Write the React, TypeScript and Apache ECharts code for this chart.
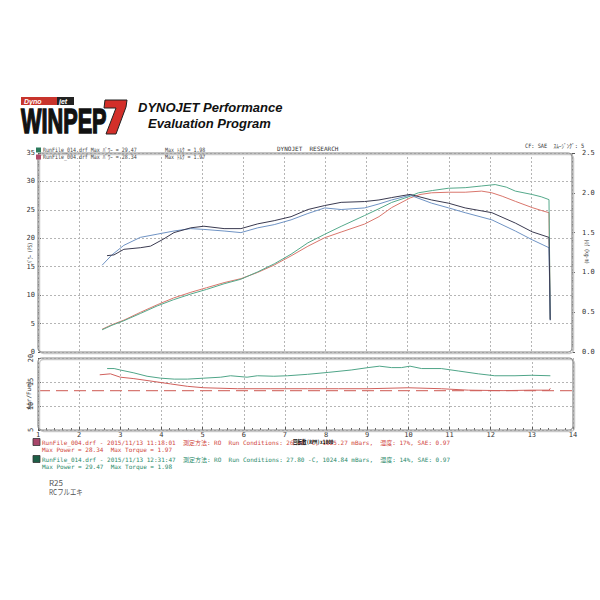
import React, { useEffect, useRef } from "react";
import * as echarts from "echarts";

// ---- data (rpm x1000, value) ----
const powerRun014: number[][] = [
  [2.56, 3.9], [2.8, 4.7], [3.09, 5.5], [3.5, 6.8], [3.9, 8.1], [4.3, 9.2], [4.72, 10.2], [5.1, 11.0],
  [5.53, 12.0], [5.94, 12.8], [6.35, 14.1], [6.75, 15.5], [7.16, 17.2], [7.57, 19.2], [7.98, 20.7],
  [8.38, 22.1], [8.95, 24.0], [9.3, 25.2], [9.61, 26.3], [10.06, 27.4], [10.26, 28.0], [10.6, 28.4],
  [10.99, 28.8], [11.4, 28.9], [11.8, 29.2], [12.13, 29.45], [12.4, 29.0], [12.62, 28.3], [13.03, 27.7],
  [13.25, 27.3], [13.44, 26.8], [13.47, 5.8],
];
const powerRun004: number[][] = [
  [2.56, 4.0], [2.8, 4.8], [3.09, 5.6], [3.5, 7.0], [3.9, 8.3], [4.3, 9.5], [4.72, 10.5], [5.1, 11.3],
  [5.53, 12.2], [5.94, 12.9], [6.35, 14.0], [6.75, 15.3], [7.16, 16.9], [7.57, 18.6], [7.98, 20.1],
  [8.38, 21.1], [8.95, 22.5], [9.3, 23.8], [9.61, 25.4], [10.06, 27.1], [10.3, 27.7], [10.58, 28.0],
  [11.0, 28.1], [11.4, 28.1], [11.8, 28.3], [12.05, 28.0], [12.3, 27.4], [12.62, 26.5], [13.03, 25.4],
  [13.25, 24.9], [13.44, 24.5], [13.47, 5.8],
];
const torqueRun004: number[][] = [
  [2.56, 1.09], [2.8, 1.22], [3.09, 1.34], [3.49, 1.44], [3.9, 1.48], [4.31, 1.52], [4.72, 1.55],
  [5.04, 1.54], [5.53, 1.52], [5.94, 1.5], [6.35, 1.56], [6.75, 1.6], [7.16, 1.66], [7.57, 1.74],
  [7.98, 1.81], [8.38, 1.79], [8.95, 1.81], [9.3, 1.86], [9.61, 1.91], [10.06, 1.97], [10.58, 1.87],
  [11.0, 1.81], [11.4, 1.75], [12.05, 1.66], [12.62, 1.52], [13.03, 1.41], [13.44, 1.31], [13.47, 0.4],
];
const torqueRun014: number[][] = [
  [2.68, 1.21], [2.85, 1.22], [3.09, 1.29], [3.49, 1.31], [3.74, 1.33], [4.06, 1.42], [4.31, 1.5],
  [4.72, 1.56], [5.04, 1.58], [5.53, 1.55], [5.94, 1.55], [6.35, 1.61], [6.75, 1.65], [7.16, 1.7],
  [7.57, 1.79], [7.98, 1.84], [8.38, 1.88], [8.95, 1.89], [9.3, 1.91], [9.61, 1.94], [10.06, 1.98],
  [10.58, 1.91], [10.99, 1.87], [11.4, 1.81], [12.05, 1.75], [12.62, 1.62], [13.03, 1.51], [13.44, 1.44],
  [13.47, 0.4],
];
const afrRun014: number[][] = [
  [2.68, 17.8], [2.85, 17.8], [3.0, 17.5], [3.33, 16.9], [3.65, 16.2], [3.98, 15.8], [4.31, 15.6],
  [4.63, 15.6], [5.03, 15.8], [5.44, 16.0], [5.68, 16.3], [6.08, 16.0], [6.33, 16.3], [6.73, 16.2],
  [7.06, 16.3], [7.55, 16.6], [8.05, 17.0], [8.61, 17.5], [9.02, 18.0], [9.3, 18.3], [9.59, 18.0],
  [9.83, 18.0], [10.04, 18.3], [10.32, 17.8], [10.8, 17.8], [11.21, 17.3], [11.7, 16.7], [12.1, 16.3],
  [12.59, 16.3], [13.0, 16.4], [13.45, 16.3],
];
const afrRun004: number[][] = [
  [2.5, 16.5], [2.76, 16.7], [3.0, 16.0], [3.33, 15.7], [3.82, 15.1], [4.22, 14.6], [4.63, 14.1],
  [5.03, 13.8], [5.85, 13.6], [6.66, 13.6], [7.55, 13.6], [8.3, 13.6], [9.02, 13.6], [10.0, 13.8],
  [10.8, 13.6], [11.46, 13.3], [12.3, 13.2], [13.0, 13.3], [13.42, 13.3], [13.45, 13.7],
];
const afrTarget: number[][] = [[1, 13.2], [14, 13.2]];

const rpmRange = [1, 14];
const powerRange = [0, 35];
const torqueRange = [0, 2.5];
const afrRange = [5, 20];

const headerRuns = [
  { name: "RunFile_014.drf", power: "29.47", torque: "1.98", color: "#2b7a5c" },
  { name: "RunFile_004.drf", power: "28.34", torque: "1.97", color: "#b04a6a" },
];
const footerRuns = [
  {
    line1: "RunFile_004.drf - 2015/11/13 11:18:01  測定方法: RO  Run Conditions: 26.40 -C, 1025.27 mBars,  湿度: 17%, SAE: 0.97",
    line2: "Max Power = 28.34  Max Torque = 1.97",
    color: "#d0463c",
    box: "#a8466a",
  },
  {
    line1: "RunFile_014.drf - 2015/11/13 12:31:47  測定方法: RO  Run Conditions: 27.80 -C, 1024.84 mBars,  湿度: 14%, SAE: 0.97",
    line2: "Max Power = 29.47  Max Torque = 1.98",
    color: "#2a8a6a",
    box: "#1d5e46",
  },
];

const mono = "'DejaVu Sans Mono', 'Noto Sans CJK JP', monospace";

function t(text: string, x: number, y: number, o: any = {}) {
  return {
    type: "text",
    x,
    y,
    scaleX: o.scaleX ?? 1,
    rotation: o.rotation ?? 0,
    z: 50,
    style: {
      text,
      fill: o.fill ?? "#333",
      font: `${o.style ?? "normal"} ${o.weight ?? "normal"} ${o.size ?? 6}px ${o.family ?? mono}`,
      textAlign: o.align ?? "left",
      textVerticalAlign: "middle",
      align: o.align ?? "left",
      verticalAlign: "middle",
      stroke: o.stroke,
      lineWidth: o.lineWidth ?? 0,
    },
  };
}

export default function App() {
  const ref = useRef<HTMLDivElement>(null);
  useEffect(() => {
    const chart = echarts.init(ref.current!, null, { renderer: "svg" });
    const gridLine = { show: true, lineStyle: { color: "#b5b5b5", type: [2, 2], width: 1 } };
    const lbl = { fontFamily: mono, fontSize: 7, color: "#333" };
    const line = (data: number[][], color: string, xi: number, yi: number, extra: any = {}) => ({
      type: "line",
      xAxisIndex: xi,
      yAxisIndex: yi,
      data,
      showSymbol: false,
      symbol: "none",
      lineStyle: { color, width: 1, ...extra },
      itemStyle: { color },
      z: 5,
      silent: true,
    });

    const graphics: any[] = [
      // frames
      { type: "rect", z: 9, shape: { x: 39.5, y: 154.5, width: 534, height: 199, r: 4 }, style: { fill: "none", stroke: "#c9c9c9", lineWidth: 1.5 } },
      { type: "rect", z: 10, shape: { x: 38, y: 153, width: 534, height: 199, r: 4 }, style: { fill: "none", stroke: "#8a8a8a", lineWidth: 1.2 } },
      { type: "rect", z: 9, shape: { x: 39.5, y: 359.5, width: 535, height: 72, r: 4 }, style: { fill: "none", stroke: "#c9c9c9", lineWidth: 1.5 } },
      { type: "rect", z: 10, shape: { x: 38, y: 358, width: 535, height: 72, r: 4 }, style: { fill: "none", stroke: "#8a8a8a", lineWidth: 1.2 } },
      // logo
      { type: "rect", z: 40, shape: { x: 21, y: 97, width: 36, height: 8 }, style: { fill: "#c8342c" } },
      { type: "rect", z: 40, shape: { x: 57, y: 97, width: 17, height: 8 }, style: { fill: "#222" } },
      t("Dyno", 24, 101, { size: 7, weight: "bold", style: "italic", family: "'Liberation Sans', sans-serif", fill: "#fff" }),
      t("jet", 59, 101, { size: 7, weight: "bold", style: "italic", family: "'Liberation Sans', sans-serif", fill: "#fff" }),
      t("WINPEP", 21, 121, { size: 35, weight: "bold", family: "'Liberation Sans', sans-serif", fill: "#111", scaleX: 0.62, stroke: "#111", lineWidth: 1.5 }),
      { type: "polygon", z: 45, shape: { points: [[105, 100], [127, 100], [126, 107], [116, 134], [106, 134], [116, 108], [104, 108]] }, style: { fill: "#d32f2a", stroke: "#222", lineWidth: 1 } },
      t("DYNOJET Performance", 138, 107, { size: 13, weight: "bold", style: "italic", family: "'Liberation Sans', sans-serif", fill: "#111" }),
      t("Evaluation Program", 148, 123, { size: 13, weight: "bold", style: "italic", family: "'Liberation Sans', sans-serif", fill: "#111" }),
      // header
      t("DYNOJET  RESEARCH", 277, 148, { size: 6, fill: "#333" }),
      t("CF: SAE  ｽﾑｰｼﾞﾝｸﾞ: 5", 525, 146, { size: 6, fill: "#333", scaleX: 0.88 }),
      // axis names
      t("ﾊﾟﾜｰ (PS)", 30, 253, { size: 6, align: "center", rotation: Math.PI / 2, fill: "#333", scaleX: 0.7 }),
      t("ﾄﾙｸ (kg-m)", 587, 252, { size: 6, align: "center", rotation: -Math.PI / 2, fill: "#333", scaleX: 0.7 }),
      t("Air/Fuel", 28, 395, { size: 6, align: "center", rotation: Math.PI / 2, fill: "#333" }),
    ];
    headerRuns.forEach((r, i) => {
      const y = 150 + i * 7;
      graphics.push({ type: "rect", z: 40, shape: { x: 36, y: y - 2.5, width: 5, height: 5 }, style: { fill: r.color } });
      graphics.push(t(`${r.name} Max ﾊﾟﾜｰ = ${r.power}`, 43, y, { size: 6, scaleX: 0.83, fill: "#444" }));
      graphics.push(t(`Max ﾄﾙｸ = ${r.torque}`, 165, y, { size: 6, scaleX: 0.83, fill: "#444" }));
    });
    footerRuns.forEach((r, i) => {
      const y = 442 + i * 17;
      graphics.push({ type: "rect", z: 40, shape: { x: 33, y: y - 3.5, width: 7, height: 7 }, style: { fill: r.box, stroke: "#333", lineWidth: 0.8 } });
      graphics.push(t(r.line1, 42, y, { size: 6, fill: r.color }));
      graphics.push(t(r.line2, 42, y + 7.5, { size: 6, fill: r.color }));
    });
    graphics.push(t("回転数(RPM)x1000", 293, 442, { size: 6, weight: "bold", fill: "#111", scaleX: 0.75 }));
    graphics.push(t("R25", 49, 482, { size: 8, family: "'Noto Sans CJK JP', sans-serif", fill: "#555" }));
    graphics.push(t("RCフルエキ", 49, 492, { size: 8, family: "'Noto Sans CJK JP', sans-serif", fill: "#555", scaleX: 0.8 }));

    chart.setOption({
      animation: false,
      backgroundColor: "#fff",
      grid: [
        { left: 38, top: 153, width: 534, height: 199, containLabel: false, outerBoundsMode: "none" },
        { left: 38, top: 358, width: 535, height: 72, containLabel: false, outerBoundsMode: "none" },
      ],
      xAxis: [
        {
          gridIndex: 0, type: "value", min: rpmRange[0], max: rpmRange[1], interval: 1,
          axisLabel: { show: false }, axisTick: { show: false }, axisLine: { show: false }, splitLine: gridLine,
        },
        {
          gridIndex: 1, type: "value", min: rpmRange[0], max: rpmRange[1], interval: 1,
          axisLabel: { ...lbl, margin: 1 },
          axisTick: { show: true, inside: true, length: 3, lineStyle: { color: "#555" } },
          minorTick: { show: true, splitNumber: 5, length: 2, lineStyle: { color: "#666" } },
          axisLine: { show: false }, splitLine: gridLine,
        },
      ],
      yAxis: [
        {
          gridIndex: 0, type: "value", position: "left", min: powerRange[0], max: powerRange[1], interval: 5,
          axisLabel: { ...lbl, margin: 3 },
          axisTick: { show: true, inside: true, length: 3, lineStyle: { color: "#555" } },
          minorTick: { show: true, splitNumber: 5, length: 2, lineStyle: { color: "#666" } },
          axisLine: { show: false }, splitLine: gridLine,
        },
        {
          gridIndex: 0, type: "value", position: "right", min: torqueRange[0], max: torqueRange[1], interval: 0.5,
          axisLabel: { ...lbl, margin: 10, formatter: (v: number) => v.toFixed(1) },
          axisTick: { show: true, inside: false, length: 3, lineStyle: { color: "#555" } },
          minorTick: { show: true, splitNumber: 5, length: 2, lineStyle: { color: "#666" } },
          axisLine: { show: false }, splitLine: { show: false },
        },
        {
          gridIndex: 1, type: "value", position: "left", min: afrRange[0], max: afrRange[1], interval: 5,
          axisLabel: { ...lbl, margin: 4, rotate: 90 },
          axisTick: { show: true, inside: true, length: 3, lineStyle: { color: "#555" } },
          minorTick: { show: true, splitNumber: 5, length: 2, lineStyle: { color: "#666" } },
          axisLine: { show: false }, splitLine: gridLine,
        },
      ],
      series: [
        line(powerRun004, "#d9766c", 0, 0),
        line(powerRun014, "#55a98b", 0, 0),
        line(torqueRun004, "#6f93c4", 0, 1),
        line(torqueRun014, "#3a3a50", 0, 1),
        line(afrTarget, "#d77a74", 1, 2, { type: [12, 6], width: 1.2 }),
        line(afrRun004, "#d0605c", 1, 2),
        line(afrRun014, "#4fa588", 1, 2),
      ],
      graphic: graphics,
    });
    return () => chart.dispose();
  }, []);
  return (
    <div
      ref={ref}
      style={{ position: "fixed", left: 0, top: 0, width: 600, height: 600, background: "#fff" }}
    />
  );
}
